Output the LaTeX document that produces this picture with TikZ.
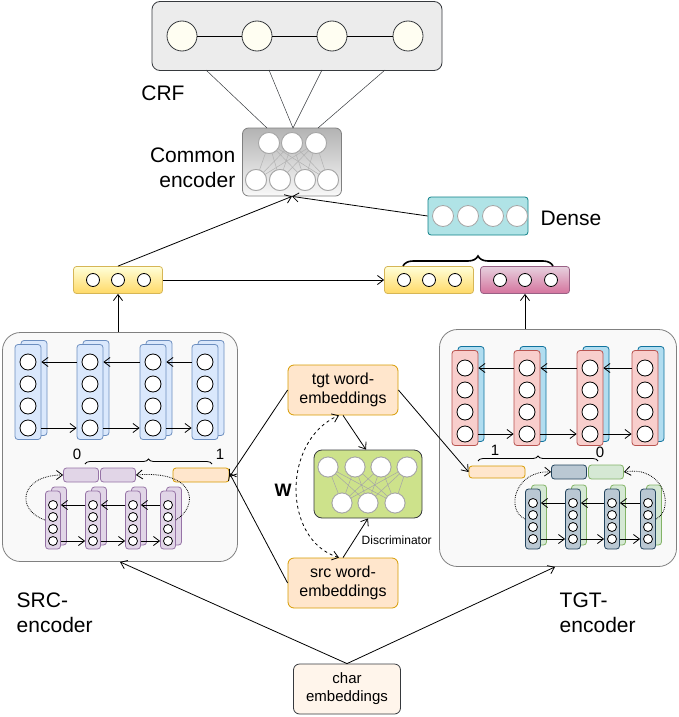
\documentclass[tikz,border=0pt]{standalone}
\usepackage{fontspec}
\setmainfont{Liberation Sans}
\usetikzlibrary{arrows.meta,positioning,decorations.pathreplacing}

\definecolor{bluF}{HTML}{DAE8FC}\definecolor{bluD}{HTML}{6C8EBF}
\definecolor{redF}{HTML}{F8CECC}\definecolor{redD}{HTML}{B85450}
\definecolor{tealF}{HTML}{B1DDF0}\definecolor{tealD}{HTML}{10739E}
\definecolor{purF}{HTML}{E1D5E7}\definecolor{purD}{HTML}{9673A6}
\definecolor{oraF}{HTML}{FFE6CC}\definecolor{oraD}{HTML}{D79B00}
\definecolor{slaF}{HTML}{BAC8D3}\definecolor{slaD}{HTML}{23445D}
\definecolor{greF}{HTML}{D5E8D4}\definecolor{greD}{HTML}{82B366}
\definecolor{yelD}{HTML}{D6B656}\definecolor{yelB}{HTML}{FFD966}
\definecolor{pinD}{HTML}{996185}\definecolor{pinB}{HTML}{D5739D}\definecolor{pinT}{HTML}{E6D0DE}
\definecolor{denF}{HTML}{B0E3E6}\definecolor{denD}{HTML}{0E8088}
\definecolor{disF}{HTML}{CDE28B}\definecolor{darkD}{HTML}{36393D}

\begin{document}
\begin{tikzpicture}[x=1pt,y=-1pt,
  circ/.style={circle, draw, fill=white, inner sep=0pt},
  gcirc/.style={circle, draw=gray!70, fill=white, inner sep=0pt, minimum size=21pt},
  box/.style={draw, rounded corners=3pt, inner sep=0pt},
  bigcol/.style={box, minimum width=26pt, minimum height=95pt},
  smallcol/.style={box, minimum width=15pt, minimum height=58pt},
  bar/.style={box, minimum width=35pt, minimum height=14pt},
  emb/.style={box, draw=oraD, fill=oraF, rounded corners=6pt, minimum width=110pt, minimum height=50pt, align=center, font=\fontsize{16}{19}\selectfont},
  vec/.style={box, minimum width=89pt, minimum height=27pt},
  lbl/.style={font=\fontsize{21}{25}\selectfont, align=left},
  num/.style={font=\fontsize{15}{17}\selectfont},
  ->, >={Straight Barb[length=6pt,width=9pt]}, line width=0.8pt]

\useasboundingbox (0,0) rectangle (679,717);

% CRF
\node[box, draw=darkD, fill=gray!15, thick, rounded corners=8pt, minimum width=290pt, minimum height=69pt] (crf) at (297,36) {};
\foreach \x [count=\i] in {182,257,332,408}
  \node[circ, thick, draw=darkD, fill=yellow!5, minimum size=30pt] (c\i) at (\x,36) {};
\foreach \i/\j in {1/2,2/3,3/4} \draw[-] (c\i) -- (c\j);
\node[lbl] (crflbl) at (163,93) {CRF};

% common encoder
\node[box, draw=gray, top color=gray!60, bottom color=gray!5, rounded corners=6pt, minimum width=99pt, minimum height=68pt] (common) at (292,162) {};
\foreach \x [count=\i] in {269,292,316} \node[gcirc] (t\i) at (\x,143) {};
\foreach \x [count=\i] in {256,280,305,328} \node[gcirc] (u\i) at (\x,180) {};
\foreach \i in {1,2,3} \foreach \j in {1,...,4} \draw[-, gray!60, line width=0.5pt] (t\i) -- (u\j);
\foreach \i in {1,2,3} \node[gcirc] at (t\i) {};
\foreach \j in {1,...,4} \node[gcirc] at (u\j) {};
\node[lbl, align=right, anchor=east] (comlbl) at (239,168) {Common\\encoder};
\foreach \a/\b in {206/267,269/293,322/293,385/318} {
  \coordinate (p) at (\a,70); \coordinate (q) at (\b,128);
  \draw[-, darkD, line width=0.5pt] (p) -- (q);
}

% dense
\node[box, draw=denD, fill=denF, minimum width=100pt, minimum height=38pt] (dense) at (478,216) {};
\foreach \x in {443,468,493,517} \node[gcirc] at (\x,216) {};
\node[lbl] (denlbl) at (571,218) {Dense};

% vectors
\node[vec, draw=yelD, top color=yellow!15, bottom color=yelB] (ysrc) at (118,280) {};
\node[vec, draw=yelD, top color=yellow!15, bottom color=yelB] (ytgt) at (429,280) {};
\node[vec, draw=pinD, top color=pinT, bottom color=pinB] (ptgt) at (525,280) {};
\foreach \x in {93,118,144,404,429,455,500,525,551} \node[circ, minimum size=13pt] at (\x,280) {};
\draw[-, line width=1.6pt, decorate, decoration={brace, amplitude=10pt}] (403,266) -- (553,266);
\draw (ysrc) -- (ytgt);
\draw (ysrc.north) -- (common.south);
\draw (dense.west) -- (common.south);

% SRC encoder
\node[box, draw=gray, fill=gray!5, rounded corners=18pt, minimum width=235pt, minimum height=229pt] (src) at (120,447) {};
\draw (src.north -| ysrc) -- (ysrc.south);
\coordinate (ra) at (0,362); \coordinate (rb) at (0,428);
\foreach \x [count=\i] in {28,90,153,205} {
  \node[bigcol, draw=bluD, fill=bluF, xshift=6pt, yshift=4pt] at (\x,392) {};
  \node[bigcol, draw=bluD, fill=bluF] (b\i) at (\x,392) {};
  \foreach \y in {362,384,406,428} \node[circ, minimum size=16pt] at (\x,\y) {};
}
\foreach \i/\j in {1/2,2/3,3/4} {
  \draw (b\j.west |- ra) -- (b\i.east |- ra);
  \draw (b\i.east |- rb) -- (b\j.west |- rb);
}
\draw[-, decorate, decoration={brace, amplitude=5pt}] (85,464) -- (212,464);
\node[num] (s0) at (77,454) {0};
\node[num] (s1) at (220,454) {1};
\node[bar, draw=purD, fill=purF] (pa) at (81,475) {};
\node[bar, draw=purD, fill=purF] (pb) at (118,475) {};
\node[bar, draw=oraD, fill=oraF, minimum width=56pt, minimum height=14pt] (sora) at (201,475) {};
\coordinate (rc) at (0,505); \coordinate (rd) at (0,541);
\foreach \x [count=\i] in {53,93,133,168} {
  \node[smallcol, draw=purD, fill=purF, xshift=6pt, yshift=4pt] at (\x,520) {};
  \node[smallcol, draw=purD, fill=purF] (m\i) at (\x,520) {};
  \foreach \y in {505,517,529,541} \node[circ, minimum size=9pt] at (\x,\y) {};
}
\foreach \i/\j in {1/2,2/3,3/4} {
  \draw (m\j.west |- rc) -- (m\i.east |- rc);
  \draw (m\i.east |- rd) -- (m\j.west |- rd);
}
\draw[densely dotted] (m1.west) .. controls (15,510) and (20,475) .. (pa.west);
\draw[densely dotted] (m4.east) .. controls (200,505) and (195,470) .. (pb.east);
\node[lbl, anchor=west] (srclbl) at (13,613) {SRC-\\encoder};

% TGT encoder
\node[box, draw=gray, fill=gray!5, rounded corners=18pt, minimum width=237pt, minimum height=237pt] (tgt) at (558,448) {};
\draw (tgt.north -| ptgt) -- (ptgt.south);
\coordinate (re) at (0,368); \coordinate (rf) at (0,434);
\foreach \x [count=\i] in {465,527,590,645} {
  \node[bigcol, draw=tealD, fill=tealF, xshift=6pt, yshift=4pt] at (\x,398) {};
  \node[bigcol, draw=redD, fill=redF] (r\i) at (\x,398) {};
  \foreach \y in {368,390,412,434} \node[circ, minimum size=16pt] at (\x,\y) {};
}
\foreach \i/\j in {1/2,2/3,3/4} {
  \draw (r\j.west |- re) -- (r\i.east |- re);
  \draw (r\i.east |- rf) -- (r\j.west |- rf);
}
\draw[-, decorate, decoration={brace, amplitude=5pt}] (478,461) -- (598,461);
\node[num] (t1) at (495,450) {1};
\node[num] (t0) at (600,452) {0};
\node[bar, draw=oraD, fill=oraF, minimum width=56pt, minimum height=12pt] (tora) at (497,472) {};
\node[bar, draw=slaD, fill=slaF] (da) at (569,472) {};
\node[bar, draw=greD, fill=greF] (db) at (606,472) {};
\coordinate (rg) at (0,503); \coordinate (rh) at (0,539);
\foreach \x [count=\i] in {533,573,612,648} {
  \node[smallcol, draw=greD, fill=greF, minimum height=60pt, xshift=6pt, yshift=4pt] at (\x,519) {};
  \node[smallcol, draw=slaD, fill=slaF, minimum height=60pt] (n\i) at (\x,519) {};
  \foreach \y in {503,515,527,539} \node[circ, minimum size=9pt] at (\x,\y) {};
}
\foreach \i/\j in {1/2,2/3,3/4} {
  \draw (n\j.west |- rg) -- (n\i.east |- rg);
  \draw (n\i.east |- rh) -- (n\j.west |- rh);
}
\draw[densely dotted] (n1.west) .. controls (505,510) and (515,470) .. (da.west);
\draw[densely dotted] (n4.east) .. controls (675,510) and (665,465) .. (db.east);
\node[lbl, anchor=west] (tgtlbl) at (556,613) {TGT-\\encoder};

% center
\node[emb] (tgtemb) at (343,390) {tgt word-\\embeddings};
\node[emb] (srcemb) at (343,583) {src word-\\embeddings};
\node[box, draw=darkD, fill=disF, rounded corners=8pt, minimum width=108pt, minimum height=68pt] (disc) at (368,484) {};
\foreach \x [count=\i] in {328,355,381,407} \node[gcirc, minimum size=20pt] (d\i) at (\x,467) {};
\foreach \x [count=\i] in {342,368,395} \node[gcirc, minimum size=20pt] (e\i) at (\x,503) {};
\foreach \i in {1,...,4} \foreach \j in {1,2,3} \draw[-, gray!70, line width=0.5pt] (d\i) -- (e\j);
\foreach \i in {1,...,4} \node[gcirc, minimum size=20pt] at (d\i) {};
\foreach \j in {1,2,3} \node[gcirc, minimum size=20pt] at (e\j) {};
\node[font=\fontsize{12}{14}\selectfont, anchor=west] (disclbl) at (358,540) {Discriminator};
\draw (tgtemb.south) -- ([xshift=-2pt]disc.north);
\draw (srcemb.north) -- (disc.south);
\draw[<->, dashed] ([xshift=-4pt]srcemb.north) .. controls (282,540) and (282,440) .. ([xshift=-4pt]tgtemb.south);
\node[font=\bfseries\fontsize{18}{20}\selectfont] (wlbl) at (283,490) {W};
\draw (tgtemb.west) -- ([yshift=-2pt]sora.east);
\draw (srcemb.west) -- ([yshift=2pt]sora.east);
\draw (tgtemb.east) -- (tora.west);

% char embeddings
\node[box, draw=darkD, fill=oraF!40, rounded corners=6pt, minimum width=107pt, minimum height=50pt, align=center, font=\fontsize{15}{18}\selectfont] (char) at (347,689) {char\\embeddings};
\draw (char.north) -- (src.south);
\draw (char.north) -- ([xshift=-3pt]tgt.south);
\end{tikzpicture}
\end{document}
